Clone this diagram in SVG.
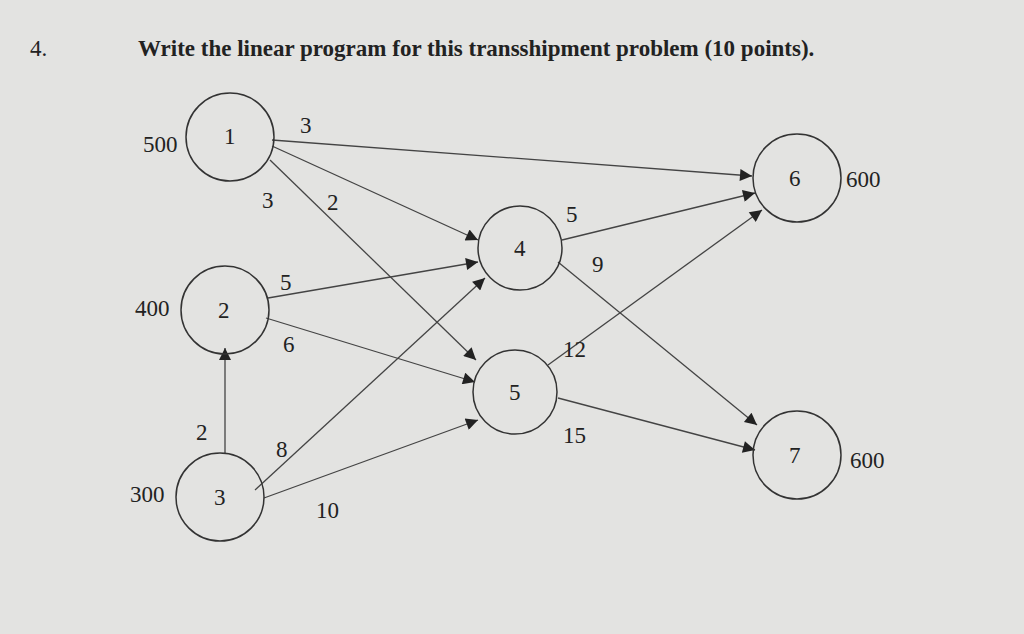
<svg xmlns="http://www.w3.org/2000/svg" width="1024" height="634" viewBox="0 0 1024 634">
<style>
text{font-family:"Liberation Serif",serif;font-size:23px;fill:#222}
.n circle{fill:none;stroke:#333;stroke-width:1.5}
.e line{stroke:#444;stroke-width:1.3;marker-end:url(#a)}
</style>
<defs><marker id="a" viewBox="0 0 10 10" refX="10" refY="5" markerWidth="16" markerHeight="12" markerUnits="userSpaceOnUse" orient="auto"><path d="M0,0L10,5L0,10z" fill="#222"/></marker></defs>
<rect width="1024" height="634" fill="#e3e3e1"/>
<text x="30" y="56" font-size="25">4.</text>
<text x="138" y="56" font-weight="bold" font-size="24">Write the linear program for this transshipment problem (10 points).</text>
<g class="e">
<line x1="272" y1="140" x2="752" y2="176"/>
<line x1="272" y1="146" x2="478" y2="240"/>
<line x1="270" y1="160" x2="476" y2="360"/>
<line x1="268" y1="298" x2="478" y2="262"/>
<line x1="266" y1="318" x2="475" y2="382"/>
<line x1="225" y1="453" x2="225" y2="348"/>
<line x1="255" y1="490" x2="485" y2="278"/>
<line x1="264" y1="498" x2="478" y2="420"/>
<line x1="562" y1="240" x2="755" y2="193"/>
<line x1="558" y1="262" x2="757" y2="425"/>
<line x1="548" y1="365" x2="762" y2="210"/>
<line x1="558" y1="398" x2="755" y2="450"/>
</g>
<text x="300" y="133">3</text><text x="327" y="210">2</text><text x="262" y="208">3</text>
<text x="280" y="290">5</text><text x="283" y="352">6</text><text x="196" y="440" font-family="Liberation Sans,sans-serif">2</text>
<text x="276" y="457">8</text><text x="316" y="518">10</text>
<text x="566" y="222">5</text><text x="592" y="272">9</text><text x="563" y="357">12</text><text x="563" y="443">15</text>
<g class="n" id="n1"><circle cx="230" cy="137" r="44"/><text x="224" y="144">1</text></g>
<g class="n" id="n2"><circle cx="225" cy="310" r="44"/><text x="218" y="318">2</text></g>
<g class="n" id="n3"><circle cx="220" cy="497" r="44"/><text x="214" y="505">3</text></g>
<g class="n" id="n4"><circle cx="520" cy="248" r="42"/><text x="514" y="256">4</text></g>
<g class="n" id="n5"><circle cx="515" cy="392" r="42"/><text x="509" y="400">5</text></g>
<g class="n" id="n6"><circle cx="797" cy="178" r="44"/><text x="789" y="186">6</text></g>
<g class="n" id="n7"><circle cx="797" cy="455" r="44"/><text x="789" y="463">7</text></g>
<text x="143" y="152">500</text><text x="135" y="316">400</text><text x="130" y="502">300</text>
<text x="846" y="187">600</text><text x="850" y="468">600</text>
</svg>
